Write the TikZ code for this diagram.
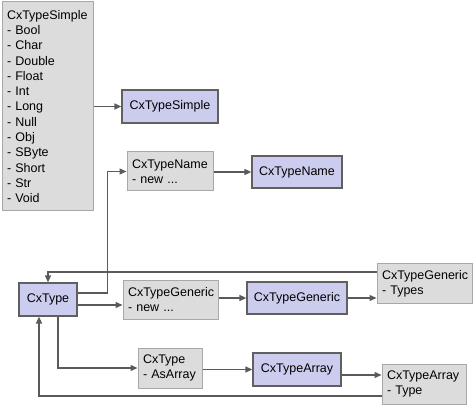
\documentclass[tikz,border=0pt]{standalone}
\usepackage{fontspec}
\setmainfont{Liberation Sans}
\usetikzlibrary{arrows.meta}
\definecolor{gfill}{HTML}{DCDCDC}
\definecolor{gline}{HTML}{A8A8A8}
\definecolor{bfill}{HTML}{CCCCEE}
\definecolor{bline}{HTML}{606060}
\definecolor{conn}{HTML}{5A5A5A}
\begin{document}
\begin{tikzpicture}[x=1pt,y=-1pt,
  every node/.style={font=\fontsize{12.5}{15.3}\selectfont, inner sep=0pt},
  gbox/.style={draw=gline, fill=gfill, line width=1pt, align=left, inner xsep=5pt, text width=#1-10pt, minimum width=#1},
  bbox/.style={draw=bline, fill=bfill, line width=1.2pt, align=center, minimum width=#1},
  arr/.style={draw=conn, line width=1.4pt, -{Triangle[length=7pt,width=6pt]}},
  ln/.style={draw=conn, line width=1.4pt}]
\useasboundingbox (0,0) rectangle (474,406);
% gray boxes
\node[gbox=91pt, minimum height=209pt] (big) at (47.5,106.5) {CxTypeSimple\\- Bool\\- Char\\- Double\\- Float\\- Int\\- Long\\- Null\\- Obj\\- SByte\\- Short\\- Str\\- Void};
\node[gbox=86pt, minimum height=39pt] (nameG) at (170,171.5) {CxTypeName\\- new ...};
\node[gbox=95pt, minimum height=39pt] (genG) at (170.5,299.5) {CxTypeGeneric\\- new ...};
\node[gbox=95pt, minimum height=39pt] (genT) at (424.5,283.5) {CxTypeGeneric\\- Types};
\node[gbox=64pt, minimum height=40pt] (asArr) at (170,368) {CxType\\- AsArray};
\node[gbox=84pt, minimum height=40pt] (arrT) at (424,384) {CxTypeArray\\- Type};
% blue boxes
\node[bbox=96pt, minimum height=33pt] (simpleB) at (170,106.5) {CxTypeSimple};
\node[bbox=90pt, minimum height=32pt] (nameB) at (297,172) {CxTypeName};
\node[bbox=58pt, minimum height=33pt] (cxtype) at (48,299.5) {CxType};
\node[bbox=100pt, minimum height=32pt] (genB) at (297,298) {CxTypeGeneric};
\node[bbox=88pt, minimum height=33pt] (arrB) at (297,369.5) {CxTypeArray};
% connectors
\draw[arr] (big.east |- simpleB) -- (simpleB.west);
\draw[arr] ([yshift=6.5pt]cxtype.east) -| ([xshift=-19pt]nameG.west) -- (nameG.west);
\draw[arr] (nameG.east |- nameB) -- (nameB.west);
\draw[arr] ([yshift=-5.5pt]cxtype.east) -- ([yshift=-5.5pt]genG.west);
\draw[arr] (genG.east |- genB) -- (genB.west);
\draw[arr] (genB.east) -- (genB.east -| genT.west);
\draw[arr] ([yshift=11.5pt]genT.west) -| (cxtype.north);
\draw[arr] ([xshift=10pt]cxtype.south) |- (asArr.west);
\draw[arr] (asArr.east |- arrB) -- (arrB.west);
\draw[arr] ([yshift=-5.5pt]arrB.east) -- ([yshift=-5.5pt]arrB.east -| arrT.west);
\draw[arr] ([yshift=-12pt]arrT.west) -| ([xshift=-9pt]cxtype.south);
\end{tikzpicture}
\end{document}
